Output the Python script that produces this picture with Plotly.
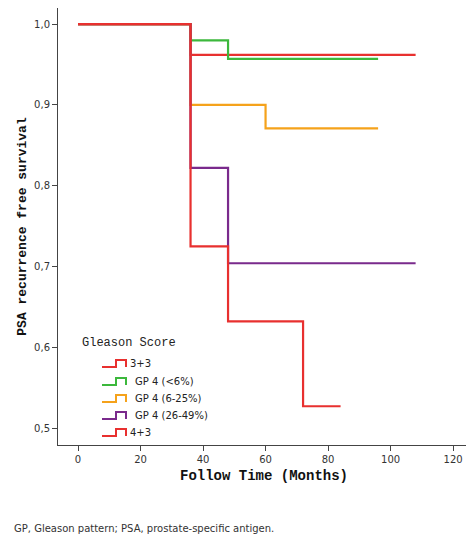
import plotly.graph_objects as go

names = ["3+3", "GP 4 (<6%)", "GP 4 (6-25%)", "GP 4 (26-49%)", "4+3"]
colors = ["#e8302f", "#3cb83c", "#f5a21b", "#7a2a8c", "#e8302f"]
times = [[0, 36, 108], [0, 36, 48, 96], [0, 36, 60, 96], [0, 36, 48, 108], [0, 36, 48, 72, 84]]
surv = [[1.0, 0.962, 0.962], [1.0, 0.98, 0.957, 0.957], [1.0, 0.90, 0.871, 0.871],
        [1.0, 0.822, 0.704, 0.704], [1.0, 0.725, 0.632, 0.527, 0.527]]
xticks = [0, 20, 40, 60, 80, 100, 120]
yticks = [0.5, 0.6, 0.7, 0.8, 0.9, 1.0]

fig = go.Figure()
for n, c, t, s in zip(names, colors, times, surv):
    fig.add_trace(go.Scatter(x=t, y=s, mode="lines", line=dict(color=c, width=2.2, shape="hv"),
                             name=n, showlegend=False))

OFF = 8
W, H = 466, 534
L, R, T, B = 50, 4, 0, 97
pw, ph = W - L - R, H - T - B
def px(x, y):
    return (x - OFF - L) / pw, 1 - (y - OFF - T) / ph

shapes, anns = [], []
ann_font = dict(family="DejaVu Sans", size=10, color="#222")
ax, ay = px(80, 343)
anns.append(dict(x=ax, y=ay, xref="paper", yref="paper", text="Gleason Score", showarrow=False,
                 xanchor="left", yanchor="middle", font=dict(family="Courier New, Liberation Mono", size=12, color="#222")))
rows = [363, 381, 398, 415, 432]
for n, c, yy in zip(names, colors, rows):
    x0, y0 = px(102, yy + 4)
    x1, y1 = px(116, yy - 3)
    x2, _ = px(126, yy)
    shapes.append(dict(type="path", xref="paper", yref="paper",
                       path=f"M {x0} {y0} L {x1} {y0} L {x1} {y1} L {x2} {y1} L {x2} {y0}",
                       line=dict(color=c, width=2)))
    tx, ty = px(128 if "+" in n else 133, yy)
    anns.append(dict(x=tx, y=ty, xref="paper", yref="paper", text=n, showarrow=False,
                     xanchor="left", yanchor="middle", font=ann_font))
cx, cy = px(12, 528)
anns.append(dict(x=cx, y=cy, xref="paper", yref="paper", text="GP, Gleason pattern; PSA, prostate-specific antigen.",
                 showarrow=False, xanchor="left", yanchor="middle", font=dict(family="DejaVu Sans", size=10, color="#333")))

fig.update_layout(
    width=W, height=H, margin=dict(l=L, r=R, t=T, b=B),
    plot_bgcolor="white", paper_bgcolor="white", shapes=shapes, annotations=anns,
    xaxis=dict(range=[-6.4, 125.4], tickvals=xticks, ticks="outside", ticklen=5, showgrid=False, zeroline=False,
               showline=True, mirror=True, linecolor="#444", tickfont=dict(family="DejaVu Sans", size=10, color="#333"),
               title=dict(text="<b>Follow Time (Months)</b>", standoff=6,
                          font=dict(family="Courier New, Liberation Mono", size=14, color="#111"))),
    yaxis=dict(range=[0.479, 1.02], tickvals=yticks, ticktext=["0,5", "0,6", "0,7", "0,8", "0,9", "1,0"],
               ticks="outside", ticklen=5, showgrid=False, zeroline=False, showline=True, mirror=True, linecolor="#444",
               tickfont=dict(family="DejaVu Sans", size=10, color="#333"),
               title=dict(text="<b>PSA recurrence free survival</b>", standoff=4,
                          font=dict(family="Courier New, Liberation Mono", size=13, color="#111"))),
)
fig.write_html("out.html")
